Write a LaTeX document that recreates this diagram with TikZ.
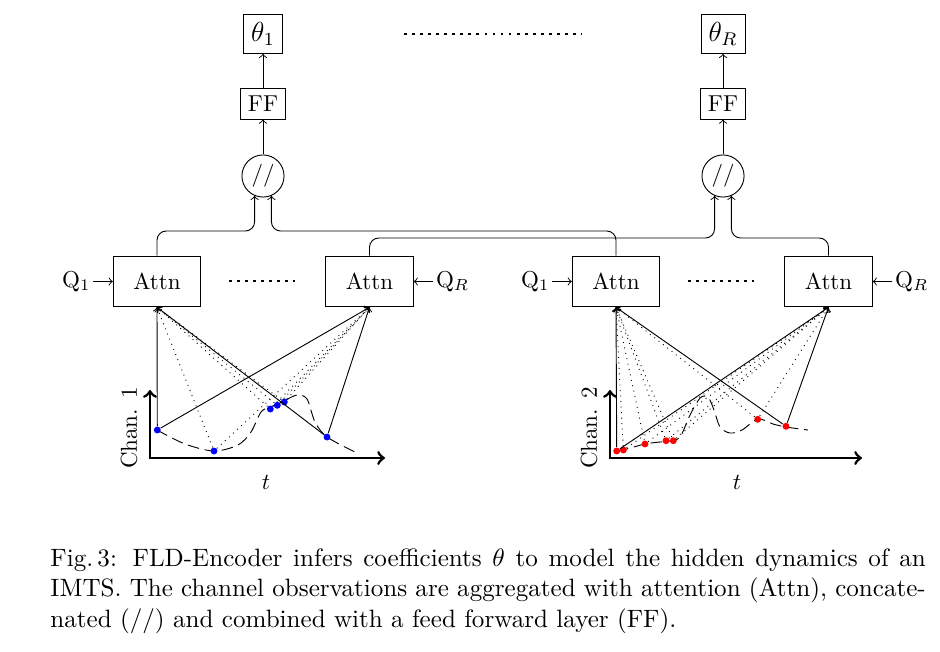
\documentclass[tikz,border=0pt]{standalone}
\usetikzlibrary{positioning}
\begin{document}
\begin{tikzpicture}[x=0.01528cm,y=-0.01528cm,
    box/.style={draw, minimum width=38pt, minimum height=22pt},
    small box/.style={draw},
    concat/.style={draw, circle, inner sep=0pt, minimum size=18.3pt},
    obs/.style={circle, fill=#1, inner sep=0pt, minimum size=3pt},
    dots/.style={line width=1.2pt, dash pattern=on 1.2pt off 2.3pt},
    axis/.style={very thick, <->}]
    \useasboundingbox (0,0) rectangle (940,651);
    % top row
    \node[small box] (theta1) at (263,34) {\large$\theta_1$};
    \node[small box] (thetaR) at (723,34) {\large$\theta_R$};
    \draw[dots] (404,34) -- (582,34);
    \node[small box] (ff1) at (263,103.5) {FF};
    \node[small box] (ff2) at (723,103.5) {FF};
    \node[concat] (conc1) at (263,176) {//};
    \node[concat] (conc2) at (723,176) {//};
    \draw[->] (conc1) -- (ff1);
    \draw[->] (ff1) -- (theta1);
    \draw[->] (conc2) -- (ff2);
    \draw[->] (ff2) -- (thetaR);
    % attention blocks
    \node[box] (attn1) at (157,281.5) {Attn};
    \node[box] (attn2) at (369.5,281.5) {Attn};
    \node[box] (attn3) at (616,281.5) {Attn};
    \node[box] (attn4) at (828.5,281.5) {Attn};
    \draw[dots] (229,281) -- (295,281);
    \draw[dots] (688,281) -- (754,281);
    \node[left=0.3cm of attn1, inner sep=1pt] (q1) {Q$_1$};
    \node[right=0.3cm of attn2, inner sep=1pt] (qR1) {Q$_R$};
    \node[left=0.3cm of attn3, inner sep=1pt] (q2) {Q$_1$};
    \node[right=0.3cm of attn4, inner sep=1pt] (qR2) {Q$_R$};
    \draw[->] (q1) -- (attn1);
    \draw[->] (qR1) -- (attn2);
    \draw[->] (q2) -- (attn3);
    \draw[->] (qR2) -- (attn4);
    % concatenation wiring
    \coordinate (bus1) at (0,231);
    \coordinate (bus2) at (0,238);
    \draw[->, rounded corners] (attn1.north) |- (conc1.247 |- bus1) -- (conc1.247);
    \draw[->, rounded corners] (attn3.north) |- (conc1.293 |- bus1) -- (conc1.293);
    \draw[->, rounded corners] (attn2.north) |- (conc2.247 |- bus2) -- (conc2.247);
    \draw[->, rounded corners] (attn4.north) |- (conc2.293 |- bus2) -- (conc2.293);
    % channel 1
    \draw[axis] (150,390) -- (150,458) -- (385,458);
    \node[rotate=90] (chan1) at (129,428) {Chan. 1};
    \node (t1) at (266,482) {$t$};
    \draw[dashed, dash pattern=on 5pt off 2.5pt] plot[smooth] coordinates {(157,430) (185,444) (214,451) (238,445) (251,432) (261,412) (270,407) (277,404.5) (284,401) (297,395) (307,399) (315,422) (327,437) (355,452)};
    \node[obs=blue] (p1) at (157.3,430) {};
    \node[obs=blue] (p2) at (214,451) {};
    \node[obs=blue] (p3) at (270.3,409) {};
    \node[obs=blue] (p4) at (277.3,405.3) {};
    \node[obs=blue] (p5) at (284.3,402) {};
    \node[obs=blue] (p6) at (327,437) {};
    \foreach \p in {p1,p6}{
        \draw[->] (\p) -- (attn1.south);
        \draw[->] (\p) -- (attn2.south);
    }
    \foreach \p in {p2,p3,p4,p5}{
        \draw[->, dotted] (\p) -- (attn1.south);
        \draw[->, dotted] (\p) -- (attn2.south);
    }
    % channel 2
    \draw[axis] (610,390) -- (610,458) -- (862,458);
    \node[rotate=90] (chan2) at (589,428) {Chan. 2};
    \node (t2) at (737,482) {$t$};
    \draw[dashed, dash pattern=on 5pt off 2.5pt] plot[smooth] coordinates {(617,451) (623,450) (645,444) (660,442) (670,441) (680,437) (690,415) (700,398) (708,397) (714,410) (720,427) (730,433) (742,430) (758,419) (773,424) (786,427) (808,430)};
    \node[obs=red] (q1a) at (616.7,451) {};
    \node[obs=red] (q2a) at (623.3,450) {};
    \node[obs=red] (q3a) at (645,444) {};
    \node[obs=red] (q4a) at (666,440.7) {};
    \node[obs=red] (q5a) at (673.3,440.7) {};
    \node[obs=red] (q6a) at (757.7,419.3) {};
    \node[obs=red] (q7a) at (786,426.3) {};
    \foreach \p in {q1a,q7a}{
        \draw[->] (\p) -- (attn3.south);
        \draw[->] (\p) -- (attn4.south);
    }
    \foreach \p in {q2a,q3a,q4a,q5a,q6a}{
        \draw[->, dotted] (\p) -- (attn3.south);
        \draw[->, dotted] (\p) -- (attn4.south);
    }
    % caption
    \node[anchor=base west, inner sep=0pt, text width=13.37cm, align=justify, font=\fontsize{10.9pt}{13.3pt}\selectfont] (caption) at (50,566)
        {Fig.\,3: FLD-Encoder infers coefficients $\theta$ to model the hidden dynamics of an\linebreak IMTS. The channel observations are aggregated with attention (Attn), concate-\linebreak nated (//) and combined with a feed forward layer (FF).};
\end{tikzpicture}
\end{document}
